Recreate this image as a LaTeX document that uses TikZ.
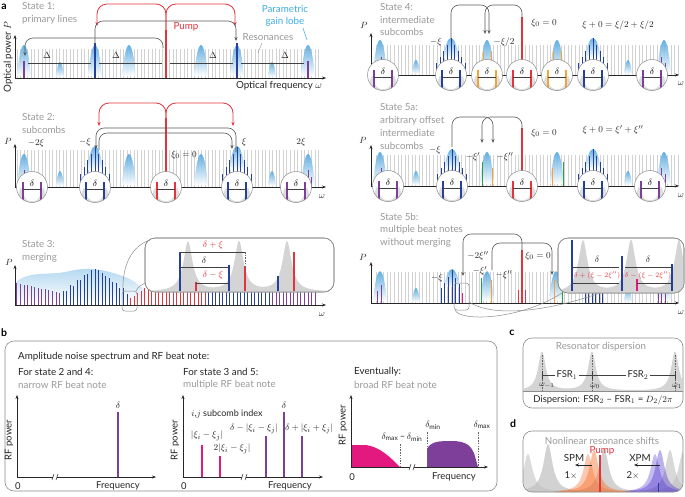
\documentclass[tikz,border=0pt]{standalone}
\usepackage{fontspec}
\setmainfont{Lato}
\usetikzlibrary{arrows.meta}
\definecolor{cpump}{HTML}{E2343C}
\definecolor{cblue}{HTML}{24409A}
\definecolor{cpurp}{HTML}{7E3F9A}
\definecolor{clobe}{HTML}{1C8AD4}
\definecolor{corange}{HTML}{F2A33A}
\definecolor{cgreen}{HTML}{2F9E48}
\definecolor{cpink}{HTML}{E3197F}
\definecolor{cres}{HTML}{D2D2D2}
\definecolor{ctext}{HTML}{9A9A9A}
\definecolor{carrow}{HTML}{5A5A5A}
\definecolor{ccyan}{HTML}{3FAEE2}
\definecolor{cbox}{HTML}{8C8C8C}
\definecolor{cfill}{HTML}{D4D4D4}
\newcommand\gainlobe[4]{%
  \shade[top color=clobe, middle color=clobe!45, bottom color=white, opacity=0.9]
   ({#1-#4},#2) .. controls ({#1-0.45*#4},{#2-1.33*#3}) and ({#1+0.45*#4},{#2-1.33*#3}) .. ({#1+#4},#2) -- cycle;}
\newcommand\magcircle[4]{%
  \begin{scope}[shift={(#1,#2)}]
    \fill[white] (0,0) circle (15.5pt);
    \begin{scope}
      \clip (0,0) circle (15.5pt);
      \fill[black!13] plot[domain=-16:16, samples=61] (\x,{16-15*0.08/(((\x+11)/10)^2+0.08)-15*0.08/(((\x-11)/10)^2+0.08)}) -- (16,16) -- (-16,16) -- cycle;
      \draw[line width=1.1pt, draw=#3] (-9,16) -- (-9,-5) (9,16) -- (9,-5);
      \draw[black!75, line width=0.5pt] (-9,2) -- (9,2);
    \end{scope}
    \node[font=\fontsize{9}{9}\selectfont, inner sep=0pt] (#4) at (0,-4) {$\delta$};
    \draw[cbox, line width=0.5pt] (0,0) circle (15.5pt);
  \end{scope}}
\newcommand\brkmark[2]{%
  \fill[white] ({#1-2},{#2-1.2}) rectangle ({#1+2},{#2+1.2});
  \draw[black!80, line width=0.5pt] ({#1-3},{#2+3}) -- ({#1-1},{#2-3}) ({#1+1},{#2+3}) -- ({#1+3},{#2-3});}
\begin{document}
\begin{tikzpicture}[x=1pt,y=-1pt,
  res/.style={draw=cres, line width=0.45pt},
  ln/.style={line width=1.1pt},
  tln/.style={line width=0.9pt},
  axis/.style={draw=black!85, line width=0.55pt, -{Stealth[length=4pt,width=3pt]}},
  garr/.style={draw=carrow, line width=0.6pt, rounded corners=8pt, -{Stealth[length=4pt,width=3.2pt]}},
  rarr/.style={draw=cpump, line width=0.8pt, rounded corners=10pt, -{Stealth[length=4pt,width=3.2pt]}},
  st/.style={text=ctext, font=\fontsize{9.8}{11}\selectfont, inner sep=0pt, anchor=north west},
  lab/.style={text=black!85, font=\fontsize{9.5}{11}\selectfont, inner sep=0pt},
  slab/.style={text=black!85, font=\fontsize{8}{9}\selectfont, inner sep=0pt},
  plab/.style={font=\bfseries\fontsize{10.5}{11}\selectfont, inner sep=0pt},
  bx/.style={draw=cbox, line width=0.6pt, rounded corners=9pt},
  dsh/.style={draw=black!60, line width=0.5pt, dash pattern=on 1.5pt off 1.2pt},
  blk/.style={draw=black!75, line width=0.6pt},
]
\useasboundingbox (0,0) rectangle (685,496);
\fill[white] (0,0) rectangle (685,496);

% ================= State 1
\node[plab] (pa) at (4,7) {a};
\node[st] (s1a) at (22,2) {State 1:};
\node[st] (s1b) at (22,15) {primary lines};
\foreach \k in {-42,...,43} {\draw[res] ({166+3.55*\k},49) -- ({166+3.55*\k},78);}
\foreach \x in {24,95,129,201,237,308} {\gainlobe{\x}{76}{31}{7}}
\foreach \x in {60,272} {\gainlobe{\x}{77}{15}{4}}
\draw[blk] (28,63) -- (91,63) (99,63) -- (162,63) (170,63) -- (233,63) (241,63) -- (304,63);
\node[lab] (d11) at (47,55) {$\Delta$};
\node[lab] (d12) at (116,55) {$\Delta$};
\node[lab] (d13) at (213,55) {$\Delta$};
\node[lab] (d14) at (285,55) {$\Delta$};
\draw[ln,cpurp] (24,78) -- (24,61);
\draw[ln,cblue] (95,78) -- (95,43);
\draw[ln,cblue] (237,78) -- (237,43);
\draw[ln,cpurp] (308,78) -- (308,61);
\draw[ln,cpump] (166,78) -- (166,30);
\draw[rarr] (166,31) |- (97,4) -- (97,26);
\draw[rarr] (166,31) |- (235,4) -- (235,26);
\draw[garr] (163,48) |- (25,38) -- (25,56);
\draw[garr] (95,44) |- (236,21) -- (236,41);
\draw[axis] (15,78) -- (15,35);
\draw[axis] (15,78) -- (326,78);
\node[lab, rotate=90, font=\fontsize{9.8}{11}\selectfont] (yl1) at (8,57) {Optical power $P$};
\node[lab, font=\fontsize{9.8}{11}\selectfont] (xl1) at (279,86) {Optical frequency $\omega$};
\node[text=cpump, font=\fontsize{9.8}{11}\selectfont, inner sep=0pt] (pumpl) at (186,27) {Pump};
\node[text=black!40, font=\fontsize{9.8}{11}\selectfont, inner sep=0pt] (resl) at (268,37) {Resonances};
\draw[black!40, line width=0.4pt] (262,43) -- (258,53);
\node[text=ccyan, font=\fontsize{9.8}{12.5}\selectfont, inner sep=0pt, align=center] (gll) at (285,16) {Parametric\\gain lobe};
\draw[ccyan, line width=0.5pt] (303,28) -- (307,40);

% ================= State 2
\node[st] (s2a) at (22,113) {State 2:};
\node[st] (s2b) at (22,126) {subcombs};
\foreach \k in {-42,...,43} {\draw[res] ({166+3.55*\k},150) -- ({166+3.55*\k},187);}
\foreach \x in {24,129,201,308} {\gainlobe{\x}{185}{31}{7}}
\foreach \x in {60,272} {\gainlobe{\x}{186}{15}{4}}
\foreach \c in {95,237} {\gainlobe{\c}{170}{24}{8}
  \foreach \j/\h in {-4/13,-3/20,-2/27,-1/33,0/40,1/33,2/27,3/20,4/13} {\draw[tln,cblue] ({\c+3.55*\j},187) -- ({\c+3.55*\j},{187-\h});}}
\foreach \c in {24,308} {\foreach \j/\h in {-1/10,0/17,1/10} {\draw[tln,cpurp] ({\c+3.55*\j},187) -- ({\c+3.55*\j},{187-\h});}}
\draw[ln,cpump] (166,187) -- (166,118);
\draw[tln,cpump] (162.45,187) -- (162.45,176) (169.55,187) -- (169.55,176);
\draw[rarr] (166,120) |- (99,103) -- (99,126);
\draw[rarr] (166,120) |- (233,103) -- (233,126);
\draw[garr] (236,152) |- (96,128) -- (96,149);
\draw[garr] (99,150) |- (232,133) -- (232,149);
\draw[axis] (15,187) -- (15,144);
\draw[axis] (15,187) -- (326,187);
\magcircle{32}{187}{cpurp}{m21}
\magcircle{95}{187}{cblue}{m22}
\magcircle{166}{187}{cpump}{m23}
\magcircle{237}{187}{cblue}{m24}
\magcircle{296}{187}{cpurp}{m25}
\node[lab] (p2) at (8,141) {$P$};
\node[lab] (w2) at (322,197) {$\omega$};
\node[lab] (l21) at (36,143) {$-2\xi$};
\node[lab] (l22) at (85,142) {$-\xi$};
\node[lab] (l23) at (184,155) {$\xi_0=0$};
\node[lab] (l24) at (244,142) {$\xi$};
\node[lab] (l25) at (301,142) {$2\xi$};

% ================= State 3
\node[st] (s3a) at (22,240) {State 3:};
\node[st] (s3b) at (22,253) {merging};
\shade[top color=clobe!35, bottom color=white] (16,304) -- (16,282) .. controls (30,270) and (50,276) .. (70,271) .. controls (90,266) and (110,271) .. (125,277) .. controls (135,281) and (141,286) .. (146,292) -- (146,304) -- cycle;
\foreach \k in {-42,...,-30} {\pgfmathsetmacro\xx{166+3.55*\k}\pgfmathsetmacro\hh{22-0.8*(\k+42)}
  \draw[tln,cpurp] (\xx,305) -- (\xx,{305-\hh});}
\foreach \k in {-29,...,-11} {\pgfmathsetmacro\xx{166+3.55*\k}\pgfmathsetmacro\hh{37-2.7*abs(\k+20)+1.5*sin(170*\k)}
  \draw[tln,cblue] (\xx,305) -- (\xx,{305-\hh});}
\foreach \k in {-10,...,11} {\pgfmathsetmacro\xx{166+3.55*\k}\pgfmathsetmacro\hh{min(22,7+2.5*(\k+10))}
  \draw[tln,cpump] (\xx,305) -- (\xx,{305-\hh});}
\foreach \k in {12,...,29} {\pgfmathsetmacro\xx{166+3.55*\k}
  \draw[tln,cblue] (\xx,305) -- (\xx,289);}
\foreach \k in {30,...,42} {\pgfmathsetmacro\xx{166+3.55*\k}
  \draw[tln,cpurp] (\xx,305) -- (\xx,289);}
\draw[axis] (15,305) -- (15,265);
\draw[axis] (15,305) -- (326,305);
\node[lab] (p3) at (9,262) {$P$};
\node[lab] (w3) at (322,315) {$\omega$};
\filldraw[fill=white, draw=cbox, line width=0.6pt, rounded corners=10pt] (145,238) rectangle (334,292);
\begin{scope}
  \clip[rounded corners=10pt] (145,238) rectangle (334,292);
  \fill[cfill] plot[domain=145:334, samples=250] (\x,{292-50*0.3/(((\x-188)/10)^2+0.3)-50*0.3/(((\x-239)/10)^2+0.3)-50*0.3/(((\x-287)/10)^2+0.3)}) -- (334,292) -- (145,292) -- cycle;
\end{scope}
\draw[cbox, line width=0.6pt, rounded corners=10pt] (145,238) rectangle (334,292);
\draw[ln,cblue] (180,291) -- (180,252) (229,291) -- (229,265) (278,291) -- (278,276);
\draw[ln,cpump] (196,291) -- (196,282) (245,291) -- (245,266) (294,291) -- (294,252);
\draw[blk] (180,252) -- (245,252) (180,267) -- (229,267) (196,283) -- (229,283);
\draw[dsh] (245,252) -- (245,266);
\node[lab, text=cpump] (i31) at (213,245) {$\delta+\xi$};
\node[lab] (i32) at (204,260) {$\delta$};
\node[lab, text=cpump] (i33) at (213,275) {$\delta-\xi$};
\draw[cbox, line width=0.5pt, rounded corners=3pt] (122,291) rectangle (137,311);
\draw[cbox, line width=0.5pt] (123,291) .. controls (122,265) and (132,246) .. (150,240);
\draw[cbox, line width=0.5pt] (136,291) .. controls (138,287) and (142,284) .. (146,283);

% ================= State 4
\node[st] (s4a) at (380,3) {State 4:};
\node[st] (s4b) at (380,16) {intermediate};
\node[st] (s4c) at (380,28) {subcombs};
\foreach \k in {-41,...,44} {\draw[res] ({522+3.55*\k},45) -- ({522+3.55*\k},75);}
\foreach \x in {380,487,557,664} {\gainlobe{\x}{73}{33}{7}}
\foreach \x in {416,628} {\gainlobe{\x}{74}{14}{4}}
\foreach \c in {451,593} {\gainlobe{\c}{58}{20}{8}
  \foreach \j/\h in {-4/12,-3/18,-2/24,-1/30,0/37,1/30,2/24,3/18,4/12} {\draw[tln,cblue] ({\c+3.55*\j},75) -- ({\c+3.55*\j},{75-\h});}}
\foreach \c in {487,557} {\draw[tln,corange] ({\c-4},75) -- ({\c-4},51) ({\c+4},75) -- ({\c+4},51);}
\draw[tln,cpurp] (377,75) -- (377,63) (381,75) -- (381,57) (661,75) -- (661,57) (665,75) -- (665,63);
\draw[ln,cpump] (522,75) -- (522,17);
\draw[tln,cpump] (518.45,75) -- (518.45,62) (525.55,75) -- (525.55,62);
\draw[garr] (451,38) |- (489,5) -- (489,34);
\draw[garr] (522,18) |- (485,5) -- (485,34);
\draw[axis] (371,75) -- (371,33);
\draw[axis] (371,75) -- (679,75);
\magcircle{383}{75}{cpurp}{m41}
\magcircle{451}{75}{cblue}{m42}
\magcircle{487}{75}{corange}{m43}
\magcircle{522}{75}{cpump}{m44}
\magcircle{557}{75}{corange}{m45}
\magcircle{593}{75}{cblue}{m46}
\magcircle{652}{75}{cpurp}{m47}
\node[lab] (p4) at (364,25) {$P$};
\node[lab] (w4) at (681,84) {$\omega$};
\node[lab] (l41) at (436,42) {$-\xi$};
\node[lab] (l42) at (504,42) {$-\xi/2$};
\node[lab] (l43) at (544,23) {$\xi_0=0$};
\node[lab] (l44) at (618,25) {$\xi+0=\xi/2+\xi/2$};

% ================= State 5a
\node[st] (s5a) at (380,103) {State 5a:};
\node[st] (s5b) at (380,116) {arbitrary offset};
\node[st] (s5c) at (380,129) {intermediate};
\node[st] (s5d) at (380,142) {subcombs};
\foreach \k in {-41,...,44} {\draw[res] ({522+3.55*\k},155) -- ({522+3.55*\k},186);}
\foreach \x in {380,487,557,664} {\gainlobe{\x}{184}{32}{7}}
\foreach \x in {416,628} {\gainlobe{\x}{185}{14}{4}}
\foreach \c in {452,593} {\gainlobe{\c}{169}{20}{8}
  \foreach \j/\h in {-4/12,-3/18,-2/24,-1/30,0/37,1/30,2/24,3/18,4/12} {\draw[tln,cblue] ({\c+3.55*\j},186) -- ({\c+3.55*\j},{186-\h});}}
\draw[tln,cgreen] (482,186) -- (482,162) (563,186) -- (563,162);
\draw[tln,corange] (492,186) -- (492,168) (552,186) -- (552,168);
\draw[tln,cpurp] (377,186) -- (377,174) (381,186) -- (381,168) (661,186) -- (661,168) (665,186) -- (665,174);
\draw[ln,cpump] (522,186) -- (522,128);
\draw[tln,cpump] (518.45,186) -- (518.45,173) (525.55,186) -- (525.55,173);
\draw[garr] (452,147) |- (493,117) -- (493,143);
\draw[garr] (522,130) |- (482,117) -- (482,143);
\draw[axis] (371,186) -- (371,145);
\draw[axis] (371,186) -- (679,186);
\magcircle{388}{186}{cpurp}{m51}
\magcircle{452}{186}{cblue}{m52}
\magcircle{522}{186}{cpump}{m53}
\magcircle{593}{186}{cblue}{m54}
\magcircle{650}{186}{cpurp}{m55}
\node[lab] (p5) at (363,140) {$P$};
\node[lab] (w5) at (681,196) {$\omega$};
\node[lab] (l51) at (435,150) {$-\xi$};
\node[lab] (l52) at (473,157) {$-\xi'$};
\node[lab] (l53) at (505,157) {$-\xi''$};
\node[lab] (l54) at (544,133) {$\xi_0=0$};
\node[lab] (l55) at (613,130) {$\xi+0=\xi'+\xi''$};

% ================= State 5b
\node[st] (s6a) at (380,213) {State 5b:};
\node[st] (s6b) at (380,225) {multiple beat notes};
\node[st] (s6c) at (380,238) {without merging};
\foreach \k in {-41,...,44} {\draw[res] ({522+3.55*\k},272) -- ({522+3.55*\k},303);}
\foreach \x in {380,487,556,664} {\gainlobe{\x}{301}{30}{7}}
\foreach \x in {416,628} {\gainlobe{\x}{302}{14}{4}}
\gainlobe{452}{287}{18}{8}
\foreach \j/\h in {-3/15,-2/20,-1/26,0/33,1/25,2/19} {\draw[tln,cblue] ({452+3.55*\j},303) -- ({452+3.55*\j},{303-\h});}
\draw[tln,cpink] (462.65,303) -- (462.65,293);
\draw[tln,cgreen] (481,303) -- (481,278) (562,303) -- (562,285);
\draw[tln,corange] (491,303) -- (491,280) (554,303) -- (554,280);
\draw[ln,cpump] (522,303) -- (522,250);
\draw[tln,cpump] (518.45,303) -- (518.45,290) (525.55,303) -- (525.55,290);
\foreach \j in {0,...,5} {\draw[tln,cblue] ({585+3.55*\j},303) -- ({585+3.55*\j},292);}
\foreach \j in {0,1,2} {\draw[tln,cpurp] ({658+3.55*\j},303) -- ({658+3.55*\j},292);}
\draw[tln,cpurp] (377,303) -- (377,291) (381,303) -- (381,285);
\draw[garr] (522,252) |- (463,234) -- (463,276);
\draw[garr] (492,270) |- (552,243) -- (552,275);
\draw[axis] (371,303) -- (371,262);
\draw[axis] (371,303) -- (679,303);
\node[lab] (p6) at (363,257) {$P$};
\node[lab] (w6) at (681,313) {$\omega$};
\node[lab] (l61) at (437,278) {$-\xi$};
\node[lab] (l62) at (478,256) {$-2\xi''$};
\node[lab] (l63) at (480,271) {$-\xi'$};
\node[lab] (l64) at (504,275) {$-\xi''$};
\node[lab] (l65) at (538,256) {$\xi_0=0$};
\draw[cbox, line width=0.5pt, rounded corners=3pt] (454,283) rectangle (469,310);
\draw[cbox, line width=0.5pt] (455,310) .. controls (460,322) and (520,320) .. (562,293);
\draw[cbox, line width=0.5pt] (469,302) .. controls (490,316) and (540,314) .. (600,293);
\filldraw[fill=white, draw=cbox, line width=0.6pt, rounded corners=10pt] (558,238) rectangle (684,293);
\begin{scope}
  \clip[rounded corners=10pt] (558,238) rectangle (684,293);
  \fill[cfill] plot[domain=558:684, samples=180] (\x,{293-52*0.3/(((\x-583)/10)^2+0.3)-52*0.3/(((\x-631)/10)^2+0.3)-52*0.3/(((\x-679)/10)^2+0.3)}) -- (684,293) -- (558,293) -- cycle;
\end{scope}
\draw[cbox, line width=0.6pt, rounded corners=10pt] (558,238) rectangle (684,293);
\draw[ln,cblue] (572,291) -- (572,240) (622,291) -- (622,256) (672,291) -- (672,264);
\draw[ln,cpink] (637,291) -- (637,279);
\draw[blk] (572,267) -- (619,267) (625,267) -- (672,267) (572,283) -- (619,283) (637,283) -- (672,283);
\node[lab] (i61) at (597,259) {$\delta$};
\node[lab] (i62) at (648,259) {$\delta$};
\node[slab, text=cpump, font=\fontsize{7.3}{8}\selectfont] (i63) at (597,275) {$\delta+(\xi-2\xi'')$};
\node[slab, text=cpump, font=\fontsize{7.3}{8}\selectfont] (i64) at (648,275) {$\delta-(\xi-2\xi'')$};

% ================= Panel b
\node[plab] (pb) at (4,333) {b};
\draw[bx] (5,341) rectangle (497,491);
\node[lab, anchor=west, font=\fontsize{9.8}{11}\selectfont] (b0) at (18,357) {Amplitude noise spectrum and RF beat note:};
\node[lab, anchor=west, font=\fontsize{9.8}{11}\selectfont] (b1) at (18,372) {For state 2 and 4:};
\node[st, anchor=west] (b2) at (18,385) {narrow RF beat note};
\node[lab, anchor=west, font=\fontsize{9.8}{11}\selectfont] (b3) at (183,372) {For state 3 and 5:};
\node[st, anchor=west] (b4) at (183,385) {multiple RF beat note};
\node[lab, anchor=west, font=\fontsize{9.8}{11}\selectfont] (b5) at (354,372) {Eventually:};
\node[st, anchor=west] (b6) at (354,385) {broad RF beat note};
% plot 1
\draw[axis] (17,477) -- (17,395);
\draw[axis] (17,477) -- (156,477);
\brkmark{55}{477}
\draw[ln,cpurp] (118,477) -- (118,412);
\node[lab] (q11) at (118,405) {$\delta$};
\node[lab] (q12) at (18,486) {0};
\node[lab] (q13) at (118,486) {Frequency};
\node[lab, rotate=90] (q14) at (9,440) {RF power};
% plot 2
\draw[axis] (183,477) -- (183,395);
\draw[axis] (183,477) -- (323,477);
\brkmark{244}{477}
\draw[ln,cpink] (202,477) -- (202,445) (220,477) -- (220,456);
\draw[ln,cpurp] (266,477) -- (266,436) (284,477) -- (284,412) (302,477) -- (302,436);
\node[lab, font=\fontsize{9}{10}\selectfont] (q21) at (227,414) {$i$,$j$ subcomb index};
\node[lab] (q22) at (284,405) {$\delta$};
\node[lab] (q23) at (207,436) {$|\xi_i-\xi_j|$};
\node[lab] (q24) at (232,449) {$2|\xi_i-\xi_j|$};
\node[lab] (q25) at (254,429) {$\delta-|\xi_i-\xi_j|$};
\node[lab] (q26) at (309,429) {$\delta+|\xi_i+\xi_j|$};
\node[lab] (q27) at (184,486) {0};
\node[lab] (q28) at (290,486) {Frequency};
\node[lab, rotate=90] (q29) at (175,440) {RF power};
% plot 3
\fill[cpink] (351,467) -- (351,445) -- (366,445) .. controls (380,447) and (390,457) .. (400,467) -- cycle;
\fill[cpurp] (427,467) -- (427,449) .. controls (431,441) and (440,441) .. (452,441) .. controls (466,441) and (471,446) .. (474,453) -- (478,467) -- cycle;
\draw[dsh] (400,444) -- (400,467) (427,432) -- (427,467) (478,432) -- (478,467);
\draw[axis] (351,467) -- (351,395);
\draw[axis] (351,467) -- (488,467);
\brkmark{412}{467}
\node[lab] (q31) at (402,437) {$\delta_{\max}$\,–\,$\delta_{\min}$};
\node[lab] (q32) at (433,425) {$\delta_{\min}$};
\node[lab] (q33) at (482,425) {$\delta_{\max}$};
\node[lab] (q34) at (352,477) {0};
\node[lab] (q35) at (454,477) {Frequency};
\node[lab, rotate=90] (q36) at (343,425) {RF power};

% ================= Panel c
\node[plab] (pc) at (512,333) {c};
\begin{scope}
  \clip (524,352) rectangle (682,391);
  \fill[cfill] plot[domain=524:682, samples=200] (\x,{391-40*0.2/(((\x-542)/10)^2+0.2)-40*0.2/(((\x-592)/10)^2+0.2)-40*0.2/(((\x-675)/10)^2+0.2)}) -- (682,391) -- (524,391) -- cycle;
\end{scope}
\draw[bx] (523,338) rectangle (683,408);
\draw[cbox, line width=0.6pt] (523,391) -- (683,391);
\draw[dsh] (542,355) -- (542,391) (592,355) -- (592,391) (675,355) -- (675,391);
\draw[blk] (542,375) -- (675,375) (542,371) -- (542,379) (592,371) -- (592,379) (675,371) -- (675,379);
\node[st, anchor=center] (c0) at (601,347) {Resonator dispersion};
\node[lab, fill=white, inner sep=1.5pt] (c1) at (567,375) {FSR$_1$};
\node[lab, fill=white, inner sep=1.5pt] (c2) at (638,375) {FSR$_2$};
\node[slab] (c3) at (547,386) {$\omega_{-1}$};
\node[slab] (c4) at (595,386) {$\omega_0$};
\node[slab] (c5) at (677,386) {$\omega_1$};
\node[lab] (c6) at (603,400) {Dispersion: FSR$_2$ -- FSR$_1$ = $D_2/2\pi$};

% ================= Panel d
\node[plab] (pd) at (513,424) {d};
\begin{scope}
  \clip[rounded corners=9pt] (523,431) rectangle (683,492);
  \fill[black!25, opacity=0.55] plot[domain=523:575, samples=60] (\x,{492-38*0.3/(((\x-528)/10)^2+0.3)}) -- (575,492) -- (523,492) -- cycle;
  \fill[black!25, opacity=0.7] plot[domain=523:580, samples=60] (\x,{492-48*0.3/(((\x-548)/10)^2+0.3)}) -- (580,492) -- (523,492) -- cycle;
  \fill[black!25, opacity=0.7] plot[domain=570:640, samples=70] (\x,{492-44*0.3/(((\x-604)/10)^2+0.3)}) -- (640,492) -- (570,492) -- cycle;
  \fill[corange!60!red, opacity=0.35] plot[domain=555:625, samples=70] (\x,{492-38*0.3/(((\x-588)/10)^2+0.3)}) -- (625,492) -- (555,492) -- cycle;
  \fill[corange!70!red, opacity=0.45] plot[domain=560:630, samples=70] (\x,{492-42*0.3/(((\x-594)/10)^2+0.3)}) -- (630,492) -- (560,492) -- cycle;
  \fill[black!25, opacity=0.6] plot[domain=640:683, samples=50] (\x,{492-42*0.3/(((\x-670)/10)^2+0.3)}) -- (683,492) -- (640,492) -- cycle;
  \fill[black!25, opacity=0.6] plot[domain=650:683, samples=40] (\x,{492-40*0.3/(((\x-683)/10)^2+0.3)}) -- (683,492) -- (650,492) -- cycle;
  \fill[cpurp!50!blue, opacity=0.3] plot[domain=625:683, samples=60] (\x,{492-38*0.3/(((\x-655)/10)^2+0.3)}) -- (683,492) -- (625,492) -- cycle;
  \fill[cpurp!50!blue, opacity=0.35] plot[domain=630:683, samples=60] (\x,{492-42*0.3/(((\x-660)/10)^2+0.3)}) -- (683,492) -- (630,492) -- cycle;
\end{scope}
\draw[bx] (523,431) rectangle (683,492);
\draw[cpump, line width=1.1pt] (600,455) -- (600,492);
\draw[cblue, line width=1pt] (658,483) -- (658,492);
\node[st, anchor=center] (d0) at (602,441) {Nonlinear resonance shifts};
\node[text=cpump, font=\fontsize{9.8}{11}\selectfont, inner sep=0pt] (d1) at (602,451) {Pump};
\node[lab, font=\fontsize{9.8}{11}\selectfont] (d2) at (574,458) {SPM};
\node[lab] (d3) at (571,475) {1$\times$};
\node[lab, font=\fontsize{9.8}{11}\selectfont] (d4) at (640,458) {XPM};
\node[lab] (d5) at (633,475) {2$\times$};
\draw[black!85, line width=0.6pt, -{Stealth[length=4pt,width=3.2pt]}] (592,465) -- (575,465);
\draw[black!85, line width=0.6pt, -{Stealth[length=4pt,width=3.2pt]}] (660,465) -- (634,465);
\end{tikzpicture}
\end{document}
